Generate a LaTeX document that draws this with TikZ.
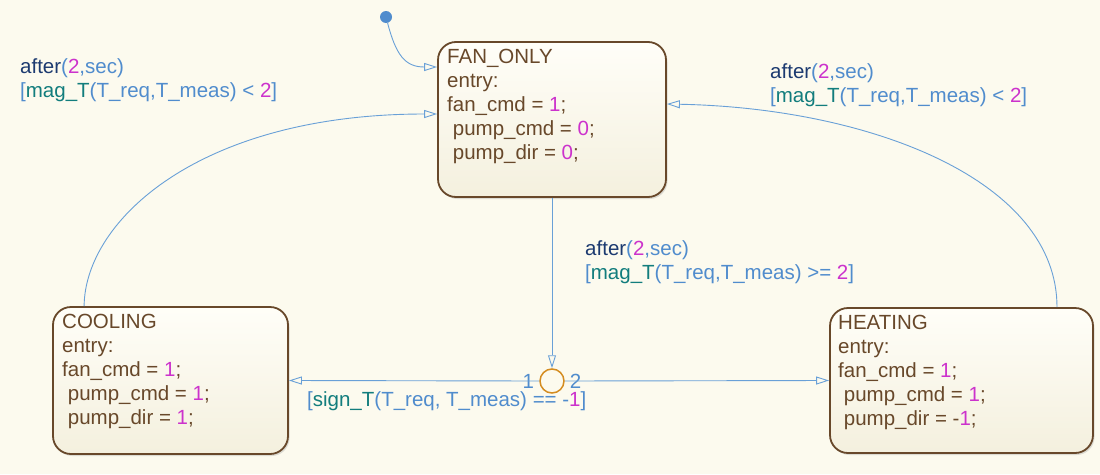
\documentclass[tikz,border=0pt]{standalone}
\usepackage{fontspec}
\setmainfont{Liberation Sans}
\usetikzlibrary{arrows.meta,positioning,shadows}

\definecolor{chartbg}{RGB}{252,250,238}
\definecolor{statebrown}{RGB}{104,72,42}
\definecolor{numpink}{RGB}{204,50,204}
\definecolor{kwnavy}{RGB}{28,58,112}
\definecolor{lightblue}{RGB}{80,140,205}
\definecolor{fnteal}{RGB}{18,125,125}
\definecolor{transblue}{RGB}{105,160,215}
\definecolor{junctorange}{RGB}{212,140,32}
\definecolor{statetop}{RGB}{255,254,248}
\definecolor{statebottom}{RGB}{244,240,222}

\newcommand{\nmb}[1]{\textcolor{numpink}{#1}}
\newcommand{\kwd}[1]{\textcolor{kwnavy}{#1}}
\newcommand{\fnc}[1]{\textcolor{fnteal}{#1}}

\begin{document}
\begin{tikzpicture}[
        x=1pt, y=-1pt,
        every node/.style={font=\fontsize{20.5}{24}\selectfont},
        statebox/.style={draw=statebrown, line width=1.8pt, rounded corners=18pt,
            top color=statetop, bottom color=statebottom,
            drop shadow={shadow xshift=1.5pt, shadow yshift=-2pt, opacity=0.25}},
        statetext/.style={text=statebrown, align=left, inner sep=0pt, anchor=north west},
        guard/.style={text=lightblue, align=left, inner sep=0pt, anchor=north west},
        trans/.style={draw=transblue, line width=0.9pt,
            -{Triangle[open, length=13pt, width=8pt]}},
        junction/.style={circle, draw=junctorange, line width=1.5pt, minimum size=24pt, inner sep=0pt},
        prio/.style={text=lightblue, inner sep=0pt}
    ]
    \fill[chartbg] (0,0) rectangle (1100,474);

    % states
    \node[statebox, minimum width=228pt, minimum height=155pt] (fanonly) at (552,119.5) {};
    \node[statetext] (fanonly-text) at (447,49.2) {FAN\_ONLY\\ entry:\\ fan\_cmd = \nmb{1};\\ \ pump\_cmd = \nmb{0};\\ \ pump\_dir = \nmb{0};};

    \node[statebox, minimum width=235pt, minimum height=147pt] (cooling) at (170.5,380.5) {};
    \node[statetext] (cooling-text) at (62,314.2) {COOLING\\ entry:\\ fan\_cmd = \nmb{1};\\ \ pump\_cmd = \nmb{1};\\ \ pump\_dir = \nmb{1};};

    \node[statebox, minimum width=263pt, minimum height=145pt] (heating) at (961.5,380.5) {};
    \node[statetext] (heating-text) at (838,315.2) {HEATING\\ entry:\\ fan\_cmd = \nmb{1};\\ \ pump\_cmd = \nmb{1};\\ \ pump\_dir = -\nmb{1};};

    % default transition
    \node[circle, fill=lightblue, minimum size=12pt, inner sep=0pt] (init) at (386,17) {};
    \draw[trans] (init) .. controls (396,55) and (405,67) .. ([yshift=52.5pt]fanonly.west);

    % junction
    \node[junction] (junc) at (552,381) {};
    \node[prio, left=5pt of junc] (prio-one) {1};
    \node[prio, right=5pt of junc] (prio-two) {2};

    \draw[trans] (fanonly.south) -- (junc.north);
    \draw[trans] (junc.west) -- (cooling.east);
    \draw[trans] (junc.east) -- (heating.west);
    \draw[trans] ([xshift=32pt]cooling.north west) .. controls (85,220) and (200,114) .. ([yshift=5.5pt]fanonly.west);
    \draw[trans] ([xshift=95.5pt]heating.north) .. controls (1057,180) and (870,108) .. ([yshift=15.5pt]fanonly.east);

    % guards
    \node[guard] (guard-cool-fan) at (20,58.2) {\kwd{after}(\nmb{2},sec)\\{[}\fnc{mag\_T}(T\_req,T\_meas) < \nmb{2}]};
    \node[guard] (guard-heat-fan) at (770,63.2) {\kwd{after}(\nmb{2},sec)\\{[}\fnc{mag\_T}(T\_req,T\_meas) < \nmb{2}]};
    \node[guard] (guard-fan-junc) at (585,240.2) {\kwd{after}(\nmb{2},sec)\\{[}\fnc{mag\_T}(T\_req,T\_meas) >= \nmb{2}]};
    \node[guard] (guard-junc-cool) at (307,391.2) {{[}\fnc{sign\_T}(T\_req, T\_meas) == -\nmb{1}]};
\end{tikzpicture}
\end{document}
